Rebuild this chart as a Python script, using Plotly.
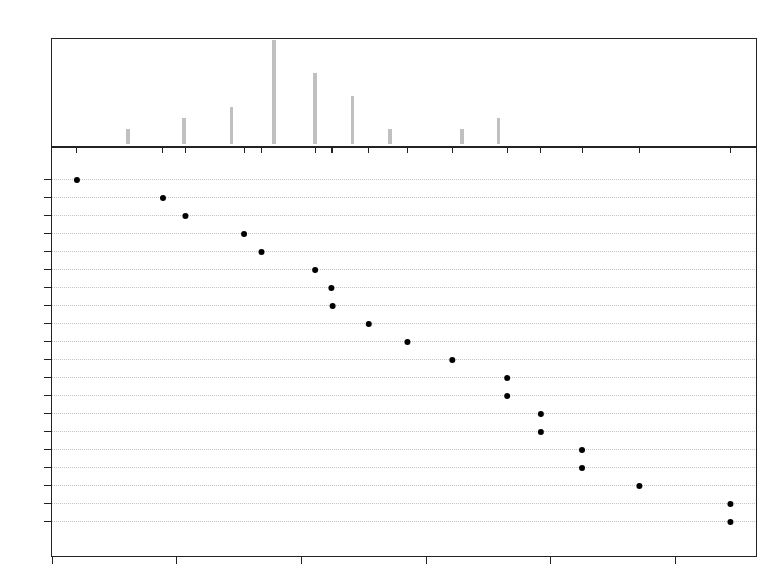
import plotly.graph_objects as go

# dot plot values, top row first (no labels shown in the original)
rows = list(range(1, 21))
values = [0.20, 0.89, 1.07, 1.54, 1.68, 2.11, 2.24, 2.25, 2.54, 2.85,
          3.21, 3.65, 3.65, 3.92, 3.92, 4.25, 4.25, 4.71, 5.44, 5.44]

# spike histogram in the top panel
spike_x = [0.61, 1.06, 1.44, 1.78, 2.11, 2.41, 2.71, 3.29, 3.58]
spike_h = [1, 2, 3, 9, 6, 4, 1, 1, 2]

x_range = [0, 5.645]
frame = "#222222"

fig = go.Figure()

fig.add_trace(go.Bar(x=spike_x, y=[h + 0.36 for h in spike_h], base=-0.36,
                     width=0.03, marker=dict(color="#c0c0c0", line_width=0),
                     xaxis="x", yaxis="y", showlegend=False))

fig.add_trace(go.Scatter(x=values, y=rows, mode="markers",
                         marker=dict(color="black", size=6),
                         xaxis="x2", yaxis="y2", showlegend=False))

# rug ticks at the top edge of the dot panel
fig.add_trace(go.Scatter(x=values, y=rows, mode="markers",
                         marker=dict(opacity=0), hoverinfo="skip",
                         xaxis="x3", yaxis="y2", showlegend=False))

split = 0.791

fig.update_layout(
    width=768, height=588,
    margin=dict(l=44, r=20, t=31, b=40),
    plot_bgcolor="white", paper_bgcolor="white",
    bargap=0,
    xaxis=dict(domain=[0, 1], range=x_range, anchor="y",
               showgrid=False, zeroline=False, showticklabels=False,
               showline=True, linecolor=frame, linewidth=1, mirror=True,
               ticks=""),
    yaxis=dict(domain=[split, 1], range=[-0.60, 9.09], anchor="x",
               showgrid=False, zeroline=False, showticklabels=False,
               showline=True, linecolor=frame, linewidth=1, mirror=True,
               ticks=""),
    xaxis2=dict(domain=[0, 1], range=x_range, anchor="y2",
                tick0=0, dtick=1, ticks="outside", ticklen=7,
                tickcolor=frame, showticklabels=False,
                showgrid=False, zeroline=False,
                showline=True, linecolor=frame, linewidth=1, mirror=True),
    yaxis2=dict(domain=[0, split], range=[21.89, -0.83], anchor="x2",
                tickvals=rows, ticks="outside", ticklen=7,
                tickcolor=frame, showticklabels=False,
                showgrid=True, gridcolor="#c4c4c4", gridwidth=1,
                griddash="1px,1px", zeroline=False,
                showline=True, linecolor=frame, linewidth=1, mirror=True),
    xaxis3=dict(overlaying="x2", anchor="y2", side="top", range=x_range,
                tickvals=sorted(set(values)), ticks="inside", ticklen=6,
                tickcolor=frame, showticklabels=False,
                showgrid=False, zeroline=False, showline=False),
)

fig.write_html("out.html")
